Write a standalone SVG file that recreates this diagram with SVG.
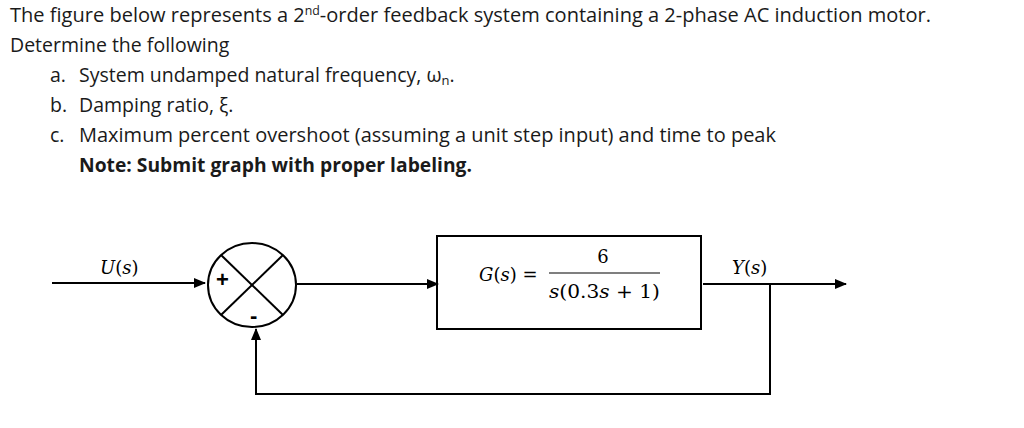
<svg xmlns="http://www.w3.org/2000/svg" width="1024" height="428" viewBox="0 0 1024 428">
<style>
.t{font-family:"Open Sans","Liberation Sans",sans-serif;font-size:19.5px;fill:#1a1a1a}
.m{font-family:"DejaVu Serif","Liberation Serif",serif;font-size:18px;fill:#000}
.i{font-style:italic}
.ln{stroke:#000;stroke-width:2;fill:none}
</style>
<defs><marker id="a" markerWidth="12" markerHeight="10" refX="11" refY="5" orient="auto" markerUnits="userSpaceOnUse"><path d="M0,0L12,5L0,10z" fill="#000"/></marker></defs>
<rect width="1024" height="428" fill="#fff"/>
<g id="text">
<text class="t" x="10" y="22" textLength="921" lengthAdjust="spacingAndGlyphs">The figure below represents a 2<tspan dy="-7" font-size="12">nd</tspan><tspan dy="7">-order feedback system containing a 2-phase AC induction motor.</tspan></text>
<text class="t" x="10" y="52">Determine the following</text>
<text class="t" x="50" y="82">a.</text><text class="t" x="79" y="82">System undamped natural frequency, ω<tspan font-size="13" dy="3">n</tspan><tspan dy="-3">.</tspan></text>
<text class="t" x="50" y="112">b.</text><text class="t" x="79" y="112">Damping ratio, ξ.</text>
<text class="t" x="50" y="142">c.</text><text class="t" x="79" y="142" textLength="697" lengthAdjust="spacingAndGlyphs">Maximum percent overshoot (assuming a unit step input) and time to peak</text>
<text class="t" x="79" y="172" font-weight="bold" textLength="393" lengthAdjust="spacingAndGlyphs">Note:  Submit graph with proper labeling.</text>
</g>
<g id="sum">
<ellipse class="ln" cx="252" cy="285" rx="44" ry="42"/>
<line class="ln" x1="221" y1="255" x2="283" y2="315"/>
<line class="ln" x1="283" y1="255" x2="221" y2="315"/>
<text x="216" y="287" font-family="Liberation Sans,sans-serif" font-weight="bold" font-size="22">+</text>
<text x="250" y="323" font-family="Liberation Sans,sans-serif" font-weight="bold" font-size="22">-</text>
</g>
<g id="G">
<rect class="ln" x="437" y="236" width="264" height="93"/>
<text class="m" x="479" y="281"><tspan class="i">G</tspan>(<tspan class="i">s</tspan>) =</text>
<text class="m" x="603" y="263" text-anchor="middle">6</text>
<line x1="549" y1="273" x2="660" y2="273" stroke="#000" stroke-width="1.2"/>
<text class="m" x="549" y="298" textLength="111" lengthAdjust="spacingAndGlyphs"><tspan class="i">s</tspan>(0.3<tspan class="i">s</tspan> + 1)</text>
</g>
<g id="labels">
<text class="m" x="100" y="274"><tspan class="i">U</tspan>(<tspan class="i">s</tspan>)</text>
<text class="m" x="732" y="274"><tspan class="i">Y</tspan>(<tspan class="i">s</tspan>)</text>
</g>
<g id="connectors">
<line class="ln" x1="52" y1="283" x2="205" y2="283" marker-end="url(#a)"/>
<line class="ln" x1="297" y1="284" x2="438" y2="284" marker-end="url(#a)"/>
<line class="ln" x1="703" y1="284" x2="846" y2="284" marker-end="url(#a)"/>
<polyline class="ln" points="770,284 770,394 256,394 256,329" marker-end="url(#a)"/>
</g>
</svg>
